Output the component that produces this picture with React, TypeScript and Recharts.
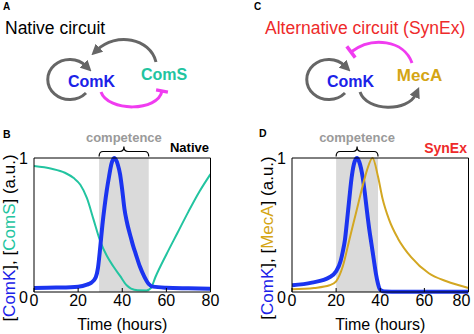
import React from "react"
import { LineChart, Line, XAxis, YAxis, ReferenceArea, ReferenceLine } from "recharts"

// panel B (native circuit)
const comkNativeTime = [0, 10, 20, 24, 26, 28, 29, 30, 31, 32, 33, 34, 35, 36.4, 38, 39, 40, 41, 42, 43, 44, 45, 46, 48, 50, 52, 54, 60, 70, 80]
const comkNativeValue = [0.03, 0.033, 0.04, 0.055, 0.07, 0.11, 0.18, 0.33, 0.5, 0.64, 0.76, 0.86, 0.95, 1.0, 0.95, 0.88, 0.76, 0.62, 0.53, 0.46, 0.4, 0.34, 0.29, 0.19, 0.115, 0.06, 0.04, 0.032, 0.028, 0.025]
const comsNativeTime = [0, 8, 14, 18, 21, 24, 27, 30, 33, 36, 39, 42, 44, 47, 51, 53, 55, 60, 65, 70, 75, 80]
const comsNativeValue = [0.94, 0.92, 0.89, 0.85, 0.8, 0.7, 0.54, 0.38, 0.27, 0.19, 0.12, 0.05, 0.025, 0.013, 0.012, 0.03, 0.11, 0.28, 0.44, 0.6, 0.75, 0.88]
const nativeCompetence = [29.5, 52]

// panel D (SynEx circuit)
const comkSynexTime = [0, 9, 17, 20, 22, 23, 24, 25, 26, 27, 28, 29.4, 30.5, 32, 33, 34, 35, 36, 37, 38, 39, 40, 42, 50, 80]
const comkSynexValue = [0.05, 0.07, 0.11, 0.155, 0.23, 0.3, 0.39, 0.54, 0.7, 0.85, 0.95, 1.0, 0.97, 0.86, 0.74, 0.6, 0.47, 0.36, 0.25, 0.14, 0.06, 0.015, 0.003, 0.002, 0.002]
const mecaSynexTime = [0, 10, 17, 20, 23, 26, 29, 32, 34, 36.5, 39, 41, 44, 48, 54, 62, 70, 80]
const mecaSynexValue = [0.02, 0.03, 0.05, 0.08, 0.19, 0.39, 0.59, 0.79, 0.91, 1.0, 0.86, 0.7, 0.54, 0.4, 0.26, 0.14, 0.08, 0.03]
const synexCompetence = [20, 39]

const xTicks = [0, 20, 40, 60, 80]
const yTicks = [0, 1]

const COLORS = {
  comkLine: "#1b34f0",
  comkText: "#1b22e8",
  coms: "#22c4a0",
  meca: "#d3a722",
  mecaText: "#d4a514",
  red: "#ee2a2a",
  magenta: "#f03cf0",
  gray: "#666666",
  shade: "#dadada",
}

const FONT = '"Liberation Sans", Arial, sans-serif'

function toPoints(times: number[], values: number[]) {
  return times.map((t, i) => ({ t, v: values[i] }))
}

function CompetenceBrace(props: any) {
  const vb = props.viewBox
  if (!vb) return null
  const x1 = vb.x
  const x2 = vb.x + vb.width
  const cx = vb.x + vb.width / 2
  const yb = vb.y - 1.5
  const ym = vb.y - 6.5
  const yt = vb.y - 11.5
  const d = `M${x1},${yb} Q${x1},${ym} ${x1 + 4},${ym} L${cx - 4},${ym} Q${cx},${ym} ${cx},${yt} Q${cx},${ym} ${cx + 4},${ym} L${x2 - 4},${ym} Q${x2},${ym} ${x2},${yb}`
  return (
    <g>
      <path d={d} fill="none" stroke="#000" strokeWidth={1.2} />
      <text x={cx} y={vb.y - 16.5} textAnchor="middle" fontSize={13} fontWeight="bold" fill="#9a9a9a" fontFamily={FONT}>
        competence
      </text>
    </g>
  )
}

function YTick(props: any) {
  const { x, y, payload } = props
  return (
    <text x={x} y={y + (payload.value === 0 ? 5 : 0)} dy="0.355em" textAnchor="end" fontSize={16} fill="#000" fontFamily={FONT}>
      {payload.value}
    </text>
  )
}

function XTick(props: any) {
  const { x, y, payload, lastShift } = props
  const shift = payload.value === 80 ? lastShift || 0 : 0
  return (
    <text x={x - shift} y={y} dy="0.71em" textAnchor="middle" fontSize={16} fill="#000" fontFamily={FONT}>
      {payload.value}
    </text>
  )
}

interface PanelProps {
  width: number
  marginRight: number
  lastShift: number
  first: { t: number; v: number }[]
  firstColor: string
  firstWidth: number
  second: { t: number; v: number }[]
  secondColor: string
  secondWidth: number
  shade: number[]
}

function TimePanel(p: PanelProps) {
  return (
    <LineChart width={p.width} height={209} margin={{ top: 33, right: p.marginRight, left: 0, bottom: 0 }}>
      <XAxis
        dataKey="t"
        type="number"
        domain={[0, 80]}
        ticks={xTicks}
        interval={0}
        allowDataOverflow
        height={42}
        tickSize={-4}
        tickMargin={7}
        axisLine={{ stroke: "#000" }}
        tickLine={{ stroke: "#000" }}
        tick={<XTick lastShift={p.lastShift} />}
        label={{ value: "Time (hours)", position: "insideBottom", offset: 4, fontSize: 16, fill: "#000", fontFamily: FONT }}
      />
      <YAxis
        type="number"
        domain={[0, 1]}
        ticks={yTicks}
        width={34}
        tickSize={0}
        tickMargin={6}
        tickLine={false}
        axisLine={{ stroke: "#000" }}
        tick={<YTick />}
      />
      <ReferenceArea
        x1={p.shade[0]}
        x2={p.shade[1]}
        y1={0}
        y2={1}
        fill={COLORS.shade}
        fillOpacity={1}
        stroke="none"
        label={(lp: any) => <CompetenceBrace {...lp} />}
      />
      <Line
        data={p.first}
        dataKey="v"
        type="monotone"
        stroke={p.firstColor}
        strokeWidth={p.firstWidth}
        dot={false}
        activeDot={false}
        isAnimationActive={false}
      />
      <Line
        data={p.second}
        dataKey="v"
        type="monotone"
        stroke={p.secondColor}
        strokeWidth={p.secondWidth}
        dot={false}
        activeDot={false}
        isAnimationActive={false}
      />
      {/* box frame: top and right edges */}
      <ReferenceLine y={1} stroke="#000" strokeWidth={1} />
      <ReferenceLine x={80} stroke="#000" strokeWidth={1} />
    </LineChart>
  )
}

function Diagrams() {
  // T-bar ends for the two repression edges
  const tBarA = { x1: 156.1, y1: 89.9, x2: 167.9, y2: 92.1 }
  const tBarC = { x1: 346.8, y1: 46.4, x2: 355.2, y2: 57.6 }
  return (
    <svg width={474} height={334} style={{ position: "absolute", left: 0, top: 0, pointerEvents: "none" }} fontFamily={FONT}>
      <defs>
        <marker id="ah" viewBox="0 0 10 10" refX="3" refY="5" markerWidth="11" markerHeight="11" markerUnits="userSpaceOnUse" orient="auto">
          <path d="M0,0 L10,5 L0,10 z" fill={COLORS.gray} />
        </marker>
      </defs>

      {/* A */}
      <text x={3} y={10} fontSize={10} fontWeight="bold">A</text>
      <text x={5} y={34} fontSize={17.5} fill="#000">Native circuit</text>
      <path d="M86,93 A22,20 0 1 1 86,66" fill="none" stroke={COLORS.gray} strokeWidth={3} markerEnd="url(#ah)" />
      <path d="M156,62 C150,38 116,32 97,50" fill="none" stroke={COLORS.gray} strokeWidth={3} markerEnd="url(#ah)" />
      <path d="M101,92 C108,112 158,112 162,91" fill="none" stroke={COLORS.magenta} strokeWidth={3} />
      <line {...tBarA} stroke={COLORS.magenta} strokeWidth={3.5} />
      <text x={91.5} y={87} textAnchor="middle" fontSize={16} fontWeight="bold" fill={COLORS.comkText}>ComK</text>
      <text x={164} y={79.5} textAnchor="middle" fontSize={16} fontWeight="bold" fill={COLORS.coms}>ComS</text>

      {/* C */}
      <text x={254} y={10} fontSize={10} fontWeight="bold">C</text>
      <text x={265} y={34} fontSize={17.5} fill={COLORS.red}>Alternative circuit (SynEx)</text>
      <path d="M345,93 A22,20 0 1 1 345,66" fill="none" stroke={COLORS.gray} strokeWidth={3} markerEnd="url(#ah)" />
      <path d="M360,92 C367,112 408,112 416,94" fill="none" stroke={COLORS.gray} strokeWidth={3} markerEnd="url(#ah)" />
      <path d="M412,63 C404,40 372,36 351,52" fill="none" stroke={COLORS.magenta} strokeWidth={3} />
      <line {...tBarC} stroke={COLORS.magenta} strokeWidth={3.5} />
      <text x={350.5} y={87} textAnchor="middle" fontSize={16} fontWeight="bold" fill={COLORS.comkText}>ComK</text>
      <text x={419.5} y={81} textAnchor="middle" fontSize={17} fontWeight="bold" fill={COLORS.mecaText}>MecA</text>

      {/* B / D headers */}
      <text x={3} y={138} fontSize={10.5} fontWeight="bold">B</text>
      <text x={209} y={152} textAnchor="end" fontSize={13} fontWeight="bold" fill="#000">Native</text>
      <text x={259} y={137} fontSize={10.5} fontWeight="bold">D</text>
      <text x={467} y={153} textAnchor="end" fontSize={14} fontWeight="bold" fill={COLORS.red}>SynEx</text>

      {/* y axis titles */}
      <text transform="translate(14.5,238) rotate(-90)" textAnchor="middle" fontSize={17} fill="#000">
        [<tspan fill={COLORS.comkText}>ComK</tspan>], [<tspan fill={COLORS.coms}>ComS</tspan>] (a.u.)
      </text>
      <text transform="translate(272.5,238) rotate(-90)" textAnchor="middle" fontSize={17} fill="#000">
        [<tspan fill={COLORS.comkText}>ComK</tspan>], [<tspan fill={COLORS.mecaText}>MecA</tspan>] (a.u.)
      </text>
    </svg>
  )
}

export default function App() {
  return (
    <div style={{ position: "absolute", left: 0, top: 0, width: 474, height: 334, background: "#fff", fontFamily: FONT }}>
      <div style={{ position: "absolute", left: 0, top: 125 }}>
        <TimePanel
          width={237}
          marginRight={26.5}
          lastShift={0}
          first={toPoints(comsNativeTime, comsNativeValue)}
          firstColor={COLORS.coms}
          firstWidth={2}
          second={toPoints(comkNativeTime, comkNativeValue)}
          secondColor={COLORS.comkLine}
          secondWidth={4}
          shade={nativeCompetence}
        />
      </div>
      <div style={{ position: "absolute", left: 258, top: 125 }}>
        <TimePanel
          width={216}
          marginRight={5.5}
          lastShift={7}
          first={toPoints(comkSynexTime, comkSynexValue)}
          firstColor={COLORS.comkLine}
          firstWidth={4}
          second={toPoints(mecaSynexTime, mecaSynexValue)}
          secondColor={COLORS.meca}
          secondWidth={2}
          shade={synexCompetence}
        />
      </div>
      <Diagrams />
    </div>
  )
}
